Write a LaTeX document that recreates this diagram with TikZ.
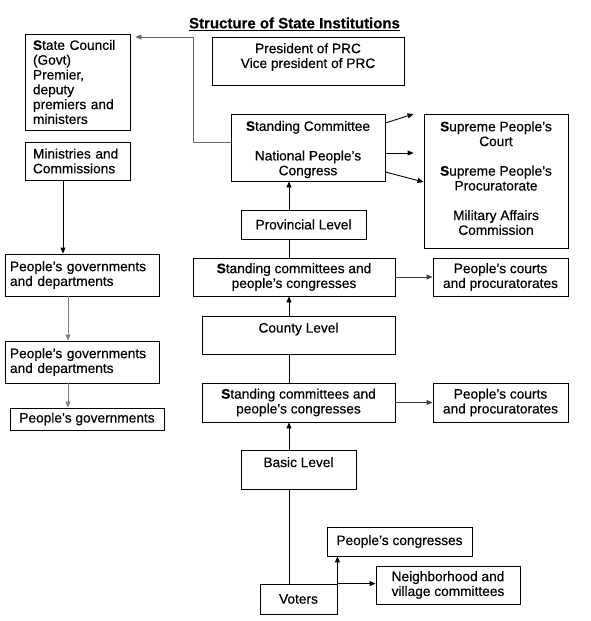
\documentclass[tikz,border=0pt]{standalone}
\usepackage{fontspec}
\setmainfont{Liberation Sans}[FakeBold=0.4]
\usetikzlibrary{arrows.meta}
\begin{document}
\begin{tikzpicture}[x=1pt,y=-1pt,line width=0.9pt,
    >={Triangle[length=6pt,width=5pt]},
    every node/.style={font={\fontsize{13.7}{14.8}\selectfont},inner sep=0pt,align=center},
    box/.style={draw,minimum width=#1},
    box/.default=100pt]
  \useasboundingbox (0,0) rectangle (591,621);
  \node (title) at (294.5,24) {\fontsize{15}{17}\selectfont\bfseries\underline{Structure of State Institutions}};
  % national level
  \node[box=105pt,minimum height=96pt,align=left,text width=89pt] (sc) at (77.5,82)
    {\textbf{S}tate Council\\(Govt)\\Premier,\\deputy\\premiers and\\ministers};
  \node[box=192pt,minimum height=48pt] (pres) at (308,61) {President of PRC\\Vice president of PRC\\[-4pt]~};
  \node[box=154pt,minimum height=67pt] (npc) at (308,147.5)
    {\textbf{S}tanding Committee\\~\\National People's\\Congress\\[-16pt]~};
  \node[box=144pt,minimum height=134pt] (sup) at (496,181)
    {\textbf{S}upreme People's\\Court\\~\\\textbf{S}upreme People's\\Procuratorate\\~\\Military Affairs\\Commission\\[-9pt]~};
  \node[box=105pt,minimum height=38pt,align=left,text width=89pt] (min) at (77.5,161) {Ministries and\\Commissions};
  % provincial level
  \node[box=125pt,minimum height=29pt] (prov) at (303.5,224.5) {Provincial Level};
  \node[box=202pt,minimum height=38pt] (scp) at (294,277) {\textbf{S}tanding committees and\\people's congresses};
  \node[box=135pt,minimum height=38pt] (crt1) at (500.5,277) {People's courts\\and procuratorates};
  \node[box=154pt,minimum height=42pt,align=left,text width=144pt] (gov1) at (82,275) {People's governments\\and departments};
  % county level
  \node[box=193pt,minimum height=38pt] (cty) at (298.5,335) {County Level\\~};
  \node[box=154pt,minimum height=42pt,align=left,text width=144pt] (gov2) at (82,362) {People's governments\\and departments};
  \node[box=193pt,minimum height=39pt] (scc) at (298.5,402.5) {\textbf{S}tanding committees and\\people's congresses};
  \node[box=135pt,minimum height=39pt] (crt2) at (500.5,402.5) {People's courts\\and procuratorates};
  \node[box=154pt,minimum height=22pt] (gov3) at (87,419) {People's governments};
  % basic level
  \node[box=115pt,minimum height=39pt] (bas) at (298.5,469.5) {Basic Level\\~};
  \node[box=145pt,minimum height=29pt] (pc) at (399.5,541.5) {People's congresses};
  \node[box=144pt,minimum height=38pt] (nb) at (448,585) {Neighborhood and\\village committees};
  \node[box=77pt,minimum height=30pt] (vot) at (298.5,599) {Voters};

  \coordinate (spine) at (289,0);
  \coordinate (lcol) at (63,0);
  \coordinate (rcol) at (68,0);
  \coordinate (bend) at (193,37);

  \draw[->] (prov.north -| spine) -- (npc.south -| spine);
  \draw (scp.north -| spine) -- (prov.south -| spine);
  \draw[->] (cty.north -| spine) -- (scp.south -| spine);
  \draw (scc.north -| spine) -- (cty.south -| spine);
  \draw[->] (bas.north -| spine) -- (scc.south -| spine);
  \draw (vot.north -| spine) -- (bas.south -| spine);

  \draw[->,gray!80!black] ([yshift=5.5pt]npc.west) -| (bend) -- ([xshift=5pt]bend -| sc.east);
  \draw[->] ([yshift=24.5pt]npc.east) -- ([xshift=-10pt,yshift=67pt]sup.west);
  \draw[->] ([yshift=-5.5pt]npc.east) -- ([xshift=-10pt,yshift=28pt]sup.west);
  \draw[->] ([yshift=-24.5pt]npc.east) -- ([yshift=-1pt]sup.west);

  \draw[->,darkgray] (scp.east) -- (crt1.west);
  \draw[->,darkgray] (scc.east) -- (crt2.west);

  \draw[->] (min.south -| lcol) -- (gov1.north -| lcol);
  \draw[->,gray] (gov1.south -| rcol) -- (gov2.north -| rcol);
  \draw[->,gray] (gov2.south -| rcol) -- (gov3.north -| rcol);

  \draw[->] (vot.north east) -- (vot.north east |- pc.south);
  \draw[->] (vot.north east) -- (vot.north east -| nb.west);
\end{tikzpicture}
\end{document}
